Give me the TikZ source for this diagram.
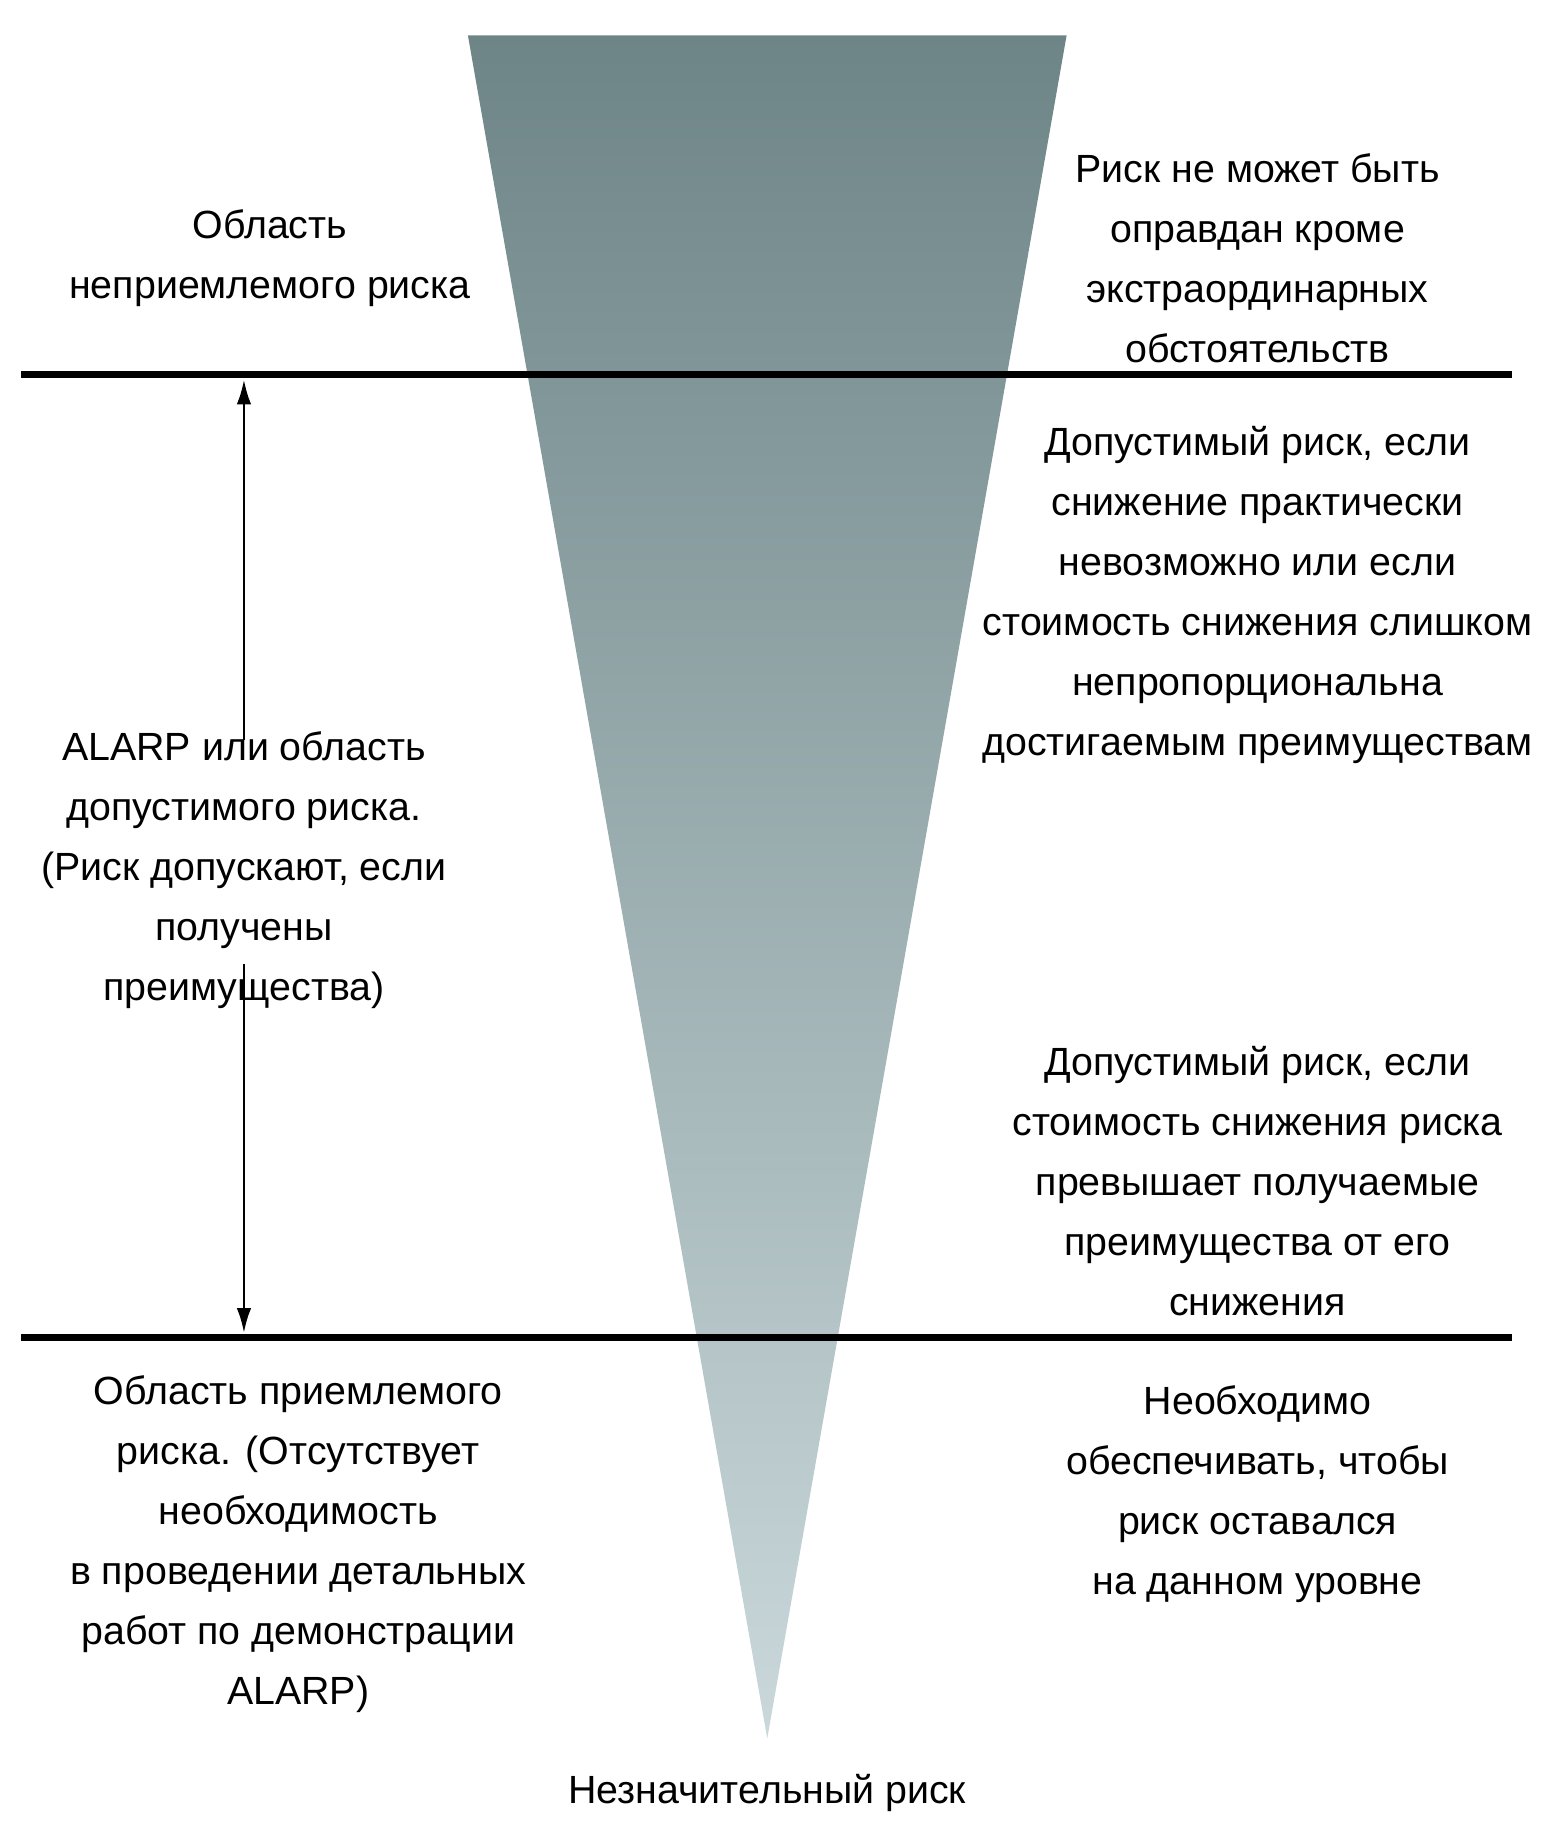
\documentclass[tikz,border=0pt]{standalone}
\usepackage{fontspec}
\setmainfont{Liberation Sans}
\usetikzlibrary{arrows.meta}
\definecolor{topc}{HTML}{6E8587}
\definecolor{botc}{HTML}{CAD8DB}
\begin{document}
\begin{tikzpicture}[x=0.02cm,y=-0.02cm,
  lbl/.style={align=center,font=\fontsize{19}{29}\selectfont,inner sep=0pt},
  bar/.style={line width=3.4pt},
  dim/.style={line width=1.3pt,-{Latex[length=12pt,width=7pt]}}]
\useasboundingbox (0,0) rectangle (1320,1568);
\shade[top color=topc,bottom color=botc] (397,30) -- (905,30) -- (651,1475) -- cycle;
\coordinate (l1a) at (18,318); \coordinate (l1b) at (1283,318);
\coordinate (l2a) at (18,1135); \coordinate (l2b) at (1283,1135);
\draw[bar] (l1a) -- (l1b);
\draw[bar] (l2a) -- (l2b);
\node[lbl] (a) at (229,219) {Область\\неприемлемого риска};
\node[lbl] (b) at (1067,219) {Риск не может быть\\оправдан кроме\\экстраординарных\\обстоятельств};
\node[lbl] (c) at (1067,505) {Допустимый риск, если\\снижение практически\\невозможно или если\\стоимость снижения слишком\\непропорциональна\\достигаемым преимуществам};
\node[lbl] (d) at (207,738) {ALARP или область\\допустимого риска.\\(Риск допускают, если\\получены\\преимущества)};
\node[lbl] (e) at (1067,1002) {Допустимый риск, если\\стоимость снижения риска\\превышает получаемые\\преимущества от его\\снижения};
\node[lbl] (f) at (253,1310) {Область приемлемого\\риска. (Отсутствует\\необходимость\\в проведении детальных\\работ по демонстрации\\ALARP)};
\node[lbl] (g) at (1067,1268) {Необходимо\\обеспечивать, чтобы\\риск оставался\\на данном уровне};
\node[lbl] (h) at (651,1521) {Незначительный риск};
\coordinate (at) at (207,322); \coordinate (ab) at (207,1131);
\coordinate (a1) at (207,628); \coordinate (a2) at (207,818);
\draw[dim] (a1) -- (at);
\draw[dim] (a2) -- (ab);
\end{tikzpicture}
\end{document}
